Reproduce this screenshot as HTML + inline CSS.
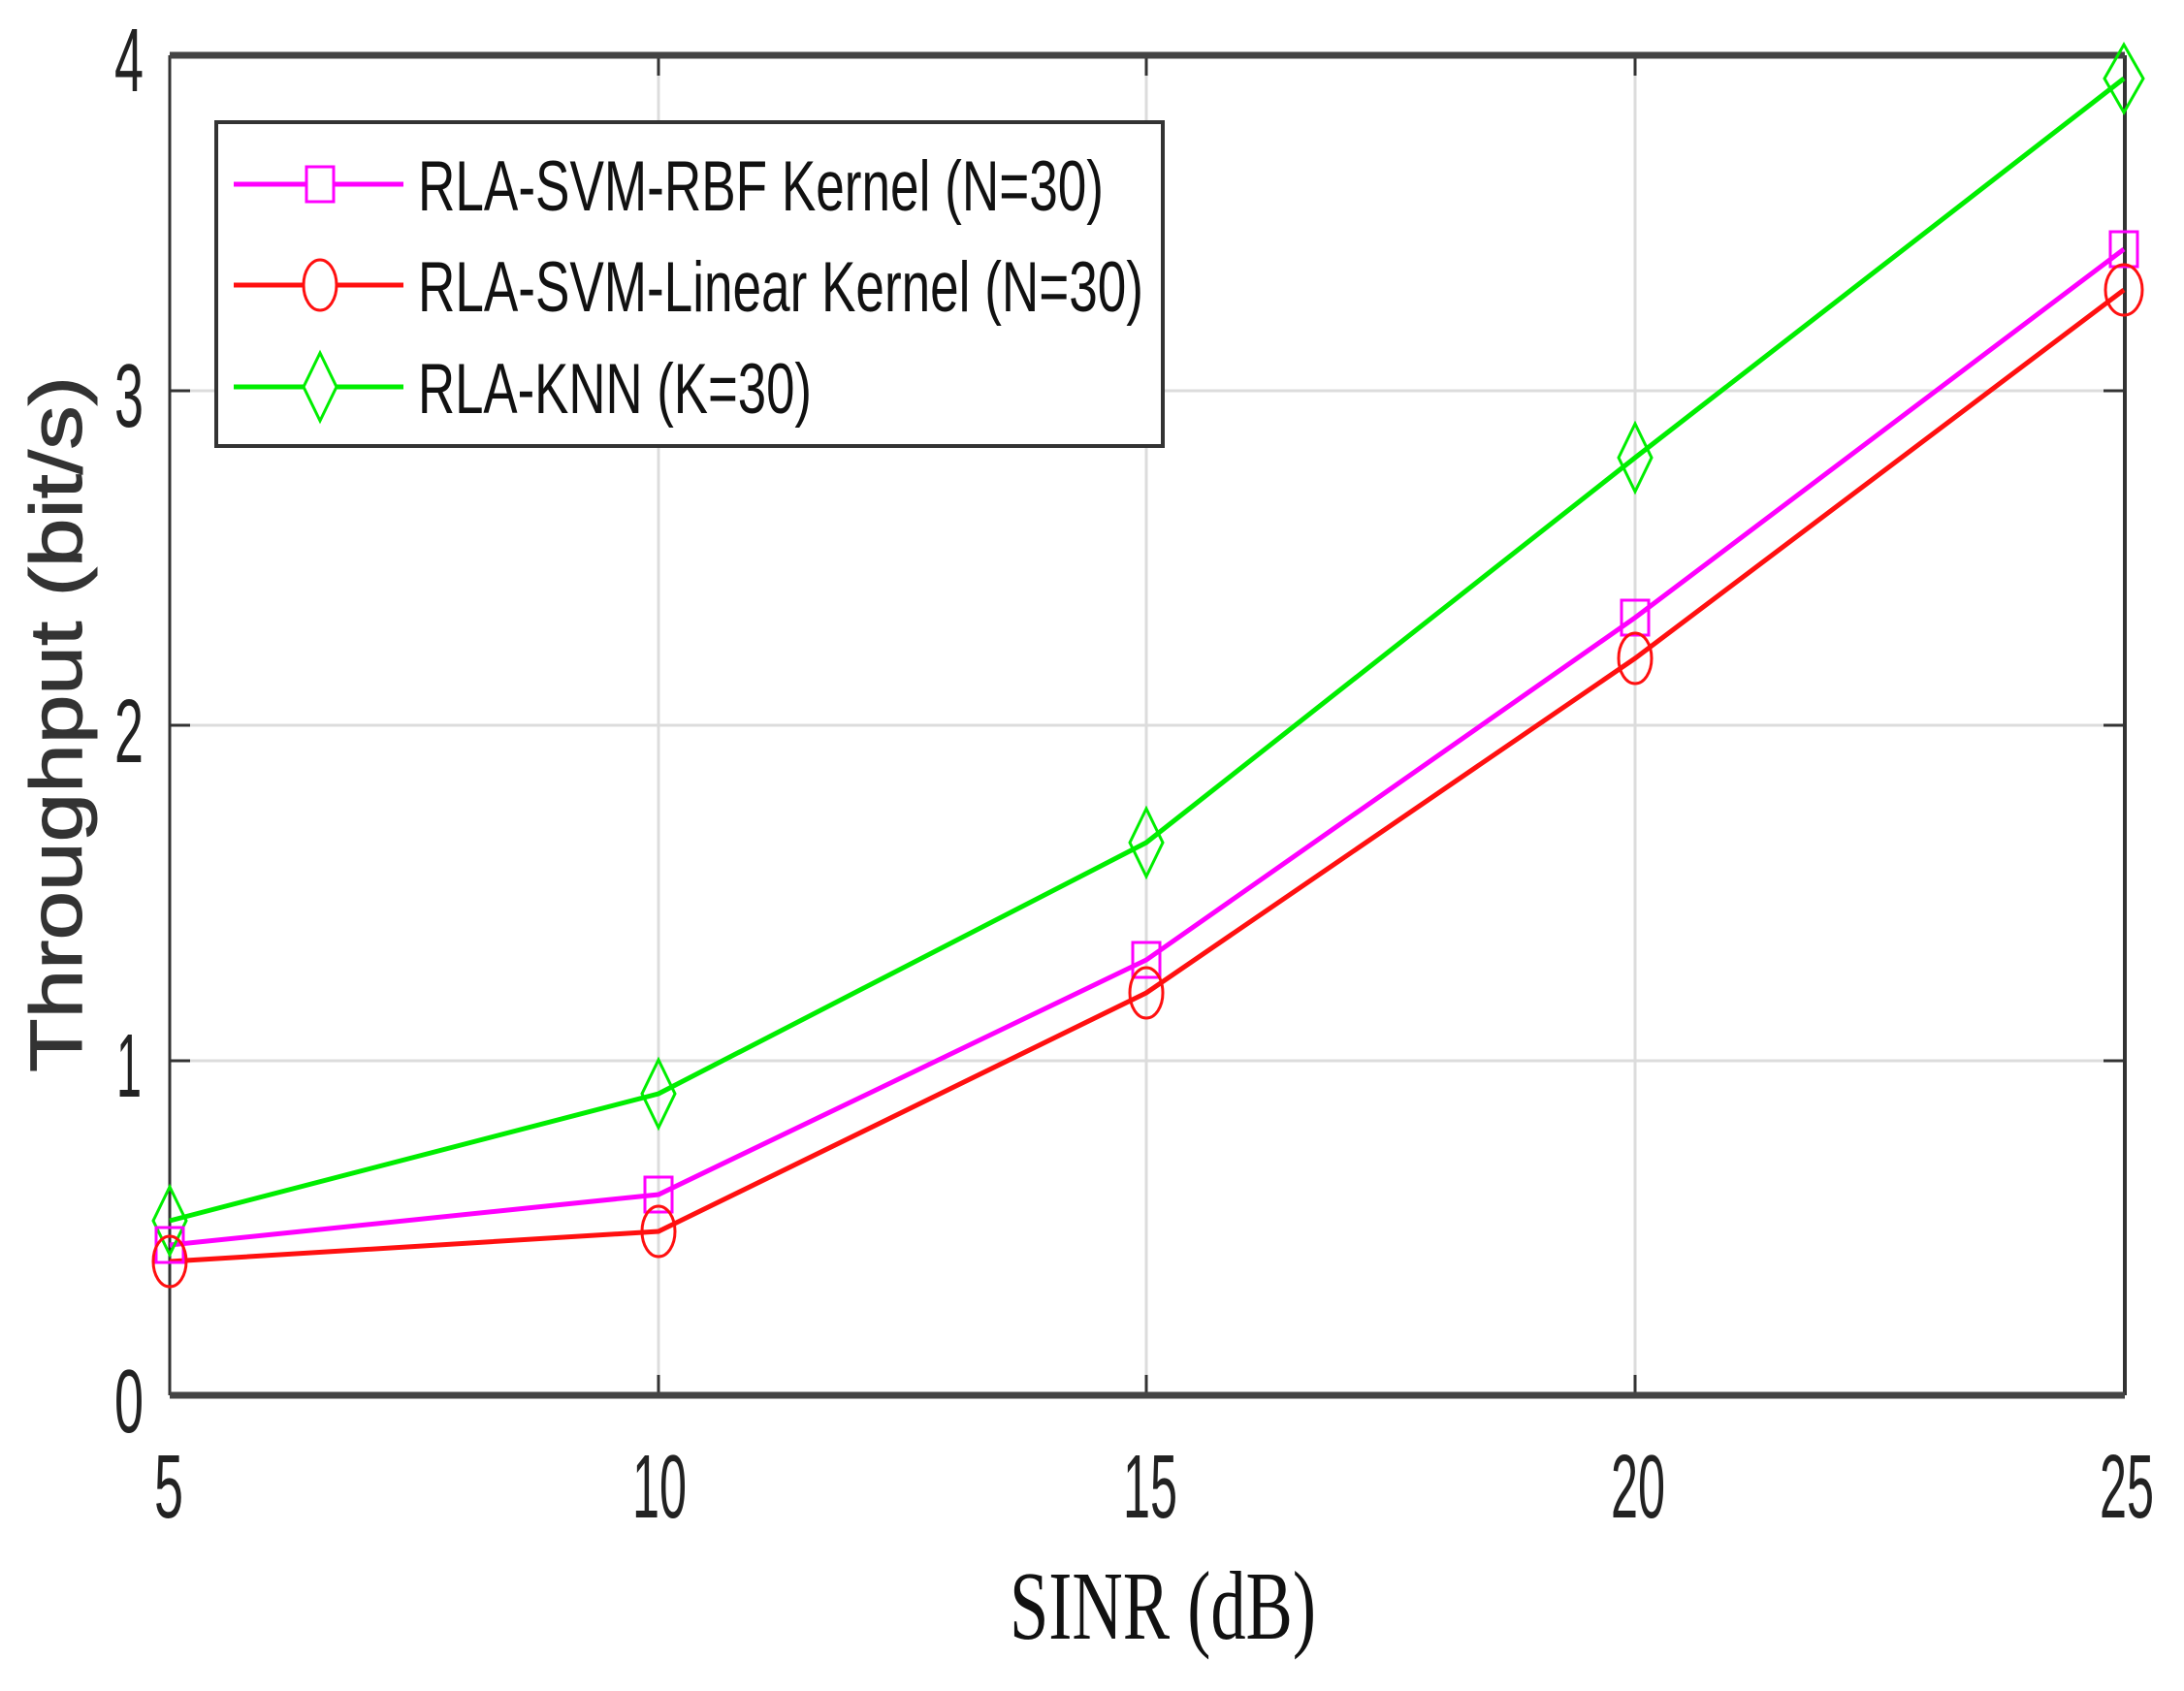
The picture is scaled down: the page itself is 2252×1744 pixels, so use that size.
<!DOCTYPE html>
<html><head><meta charset="utf-8"><style>html,body{margin:0;padding:0;background:#fff}svg{display:block}</style></head><body>
<svg width="2252" height="1744" xmlns="http://www.w3.org/2000/svg">
<rect width="2252" height="1744" fill="#fff"/>
<g stroke="#dcdcdc" stroke-width="3">
<line x1="679" y1="57" x2="679" y2="1439"/><line x1="1182" y1="57" x2="1182" y2="1439"/><line x1="1686" y1="57" x2="1686" y2="1439"/>
<line x1="175" y1="1094" x2="2190" y2="1094"/><line x1="175" y1="748" x2="2190" y2="748"/><line x1="175" y1="403" x2="2190" y2="403"/>
</g>
<g stroke="#333" stroke-width="3">
<line x1="679" y1="57" x2="679" y2="78"/><line x1="1182" y1="57" x2="1182" y2="78"/><line x1="1686" y1="57" x2="1686" y2="78"/>
<line x1="679" y1="1439" x2="679" y2="1418"/><line x1="1182" y1="1439" x2="1182" y2="1418"/><line x1="1686" y1="1439" x2="1686" y2="1418"/>
<line x1="175" y1="1094" x2="196" y2="1094"/><line x1="175" y1="748" x2="196" y2="748"/><line x1="175" y1="403" x2="196" y2="403"/>
<line x1="2190" y1="1094" x2="2169" y2="1094"/><line x1="2190" y1="748" x2="2169" y2="748"/><line x1="2190" y1="403" x2="2169" y2="403"/>
</g>
<line x1="175" y1="57" x2="175" y2="1439" stroke="#333" stroke-width="3"/>
<line x1="2191" y1="57" x2="2191" y2="1439" stroke="#333" stroke-width="4"/>
<line x1="175" y1="57" x2="2191" y2="57" stroke="#444" stroke-width="7"/>
<line x1="175" y1="1439" x2="2191" y2="1439" stroke="#444" stroke-width="7"/>
<polyline fill="none" stroke="#00ee00" stroke-width="5" points="175,1259 679,1128 1182,869 1686,472 2190,81"/>
<polyline fill="none" stroke="#ff00ff" stroke-width="5" points="175,1284 679,1232 1182,990 1686,637 2190,257"/>
<polyline fill="none" stroke="#ff1010" stroke-width="5" points="175,1301 679,1270 1182,1024 1686,679 2190,299"/>
<g fill="none" stroke-width="3">
<g stroke="#00ee00">
<path d="M175,1224 l17,35 l-17,35 l-17,-35z"/><path d="M679,1093 l17,35 l-17,35 l-17,-35z"/><path d="M1182,834 l17,35 l-17,35 l-17,-35z"/><path d="M1686,437 l17,35 l-17,35 l-17,-35z"/><path d="M2190,46 l20,35 l-20,35 l-20,-35z"/>
</g>
<g stroke="#ff00ff">
<rect x="161" y="1266" width="28" height="36"/><rect x="665" y="1214" width="28" height="36"/><rect x="1168" y="972" width="28" height="36"/><rect x="1672" y="619" width="28" height="36"/><rect x="2176" y="239" width="28" height="36"/>
</g>
<g stroke="#ff1010">
<ellipse cx="175" cy="1301" rx="17" ry="26"/><ellipse cx="679" cy="1270" rx="17" ry="26"/><ellipse cx="1182" cy="1024" rx="17" ry="26"/><ellipse cx="1686" cy="679" rx="17" ry="26"/><ellipse cx="2190" cy="299" rx="19" ry="26"/>
</g>
</g>
<rect x="223" y="126" width="976" height="334" fill="#fff" stroke="#333" stroke-width="4"/>
<line x1="241" y1="190" x2="416" y2="190" stroke="#ff00ff" stroke-width="5"/>
<rect x="316" y="172" width="28" height="36" fill="#fff" stroke="#ff00ff" stroke-width="3"/>
<line x1="241" y1="294" x2="416" y2="294" stroke="#ff1010" stroke-width="5"/>
<ellipse cx="330" cy="294" rx="17" ry="26" fill="#fff" stroke="#ff1010" stroke-width="3"/>
<line x1="241" y1="399" x2="416" y2="399" stroke="#00ee00" stroke-width="5"/>
<path d="M330,364 l17,35 l-17,35 l-17,-35z" fill="#fff" stroke="#00ee00" stroke-width="3"/>
<g font-family="Liberation Sans, sans-serif" font-size="64" fill="#111">
<text transform="translate(431,217) scale(1,1.15)" textLength="707" lengthAdjust="spacingAndGlyphs">RLA-SVM-RBF Kernel (N=30)</text>
<text transform="translate(431,321) scale(1,1.15)" textLength="748" lengthAdjust="spacingAndGlyphs">RLA-SVM-Linear Kernel (N=30)</text>
<text transform="translate(431,426) scale(1,1.15)" textLength="406" lengthAdjust="spacingAndGlyphs">RLA-KNN (K=30)</text>
</g>
<g font-family="Liberation Sans, sans-serif" font-size="62" fill="#222" text-anchor="middle">
<text transform="translate(133,1477) scale(1,1.5)" textLength="30" lengthAdjust="spacingAndGlyphs">0</text>
<text transform="translate(133,1131) scale(1,1.5)" textLength="26" lengthAdjust="spacingAndGlyphs">1</text>
<text transform="translate(133,786) scale(1,1.5)" textLength="30" lengthAdjust="spacingAndGlyphs">2</text>
<text transform="translate(133,440) scale(1,1.5)" textLength="30" lengthAdjust="spacingAndGlyphs">3</text>
<text transform="translate(133,94) scale(1,1.5)" textLength="30" lengthAdjust="spacingAndGlyphs">4</text>
<text transform="translate(174,1565) scale(1,1.5)" textLength="30" lengthAdjust="spacingAndGlyphs">5</text>
<text transform="translate(680,1565) scale(1,1.5)" textLength="56" lengthAdjust="spacingAndGlyphs">10</text>
<text transform="translate(1186,1565) scale(1,1.5)" textLength="56" lengthAdjust="spacingAndGlyphs">15</text>
<text transform="translate(1689,1565) scale(1,1.5)" textLength="56" lengthAdjust="spacingAndGlyphs">20</text>
<text transform="translate(2193,1565) scale(1,1.5)" textLength="56" lengthAdjust="spacingAndGlyphs">25</text>
</g>
<text transform="translate(84,747) rotate(-90)" text-anchor="middle" font-family="Liberation Sans, sans-serif" font-size="76" fill="#333" stroke="#333" stroke-width="1" textLength="718" lengthAdjust="spacingAndGlyphs">Throughput (bit/s)</text>
<text transform="translate(1199,1690) scale(1,1.1)" text-anchor="middle" font-family="Liberation Serif, serif" font-size="92" fill="#111" textLength="316" lengthAdjust="spacingAndGlyphs">SINR (dB)</text>
</svg>
</body></html>
